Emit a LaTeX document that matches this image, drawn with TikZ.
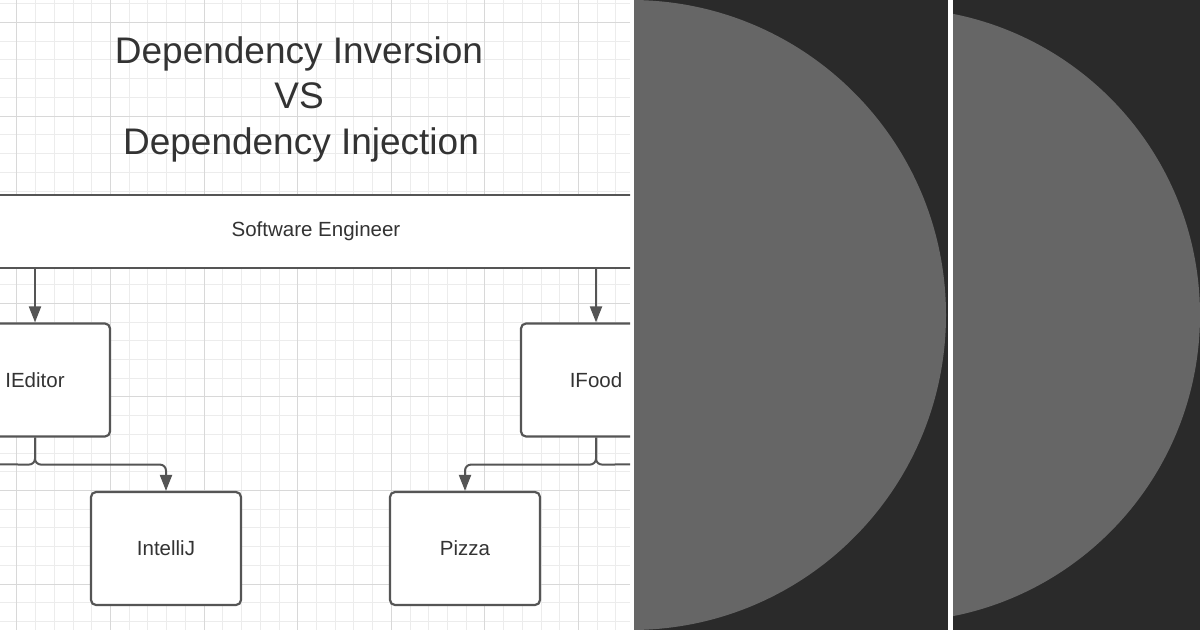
\documentclass[tikz,border=0pt]{standalone}
\usepackage{fontspec}
\setmainfont{Liberation Sans}
\usepackage{xcolor}
\usepackage{tikz}
\usetikzlibrary{arrows.meta}

\definecolor{inkgray}{HTML}{555555}
\definecolor{textgray}{HTML}{333333}
\definecolor{darkbg}{HTML}{2A2A2A}
\definecolor{discgray}{HTML}{666666}
\definecolor{minorline}{HTML}{ECECEC}
\definecolor{majorline}{HTML}{D8D8D8}

\tikzset{
  box/.style={draw=inkgray, line width=2.2pt, fill=white, rounded corners=5pt,
    minimum width=150pt, minimum height=113pt, text=textgray,
    font=\fontsize{20.5}{24}\selectfont},
  band/.style={draw=inkgray, line width=2.2pt, fill=white, minimum width=760pt,
    minimum height=73pt, text=textgray, font=\fontsize{20.5}{24}\selectfont},
  link/.style={draw=inkgray, line width=2pt, rounded corners=6pt},
  arrowlink/.style={link, -{Triangle[width=12pt,length=16pt]}},
}

\begin{document}
\begin{tikzpicture}[x=1pt, y=-1pt]
\useasboundingbox (0,0) rectangle (1200,630);
\fill[darkbg] (0,0) rectangle (1200,630);
\fill[white] (0,0) rectangle (634,630);
\fill[white] (948,0) rectangle (953,630);

% the two discs
\begin{scope}
\clip (634,0) rectangle (948,630);
\fill[discgray] (631,315) circle (315pt);
\end{scope}
\begin{scope}
\clip (953,0) rectangle (1200,630);
\fill[discgray] (893,315) circle (307pt);
\end{scope}

\begin{scope}
\clip (0,0) rectangle (630,630);
% grid paper
\foreach \i in {0,...,34} {
  \draw[minorline, line width=0.8pt] ({-1.9+18.72*\i},0) -- ++(0,630);
  \draw[minorline, line width=0.8pt] (0,{3.7+18.72*\i}) -- ++(630,0);
}
\foreach \i in {0,...,6} {
  \draw[majorline, line width=0.8pt] ({16.8+93.6*\i},0) -- ++(0,630);
  \draw[majorline, line width=0.8pt] (0,{22.4+93.6*\i}) -- ++(630,0);
}

\node[text=textgray, align=center, font=\fontsize{37}{45.5}\selectfont] (title) at (299,99)
  {Dependency Inversion\\VS\\\hspace{4pt}Dependency Injection};

\node[band] (engineer) at (316,231.5) {Software Engineer};

\node[box] (ieditor) at (35,380) {IEditor};
\node[box] (ifood) at (596,380) {IFood};
\node[box] (intellij) at (166,548.5) {IntelliJ};
\node[box] (pizza) at (465,548.5) {Pizza};

\coordinate (offleft) at (-60,464);
\coordinate (offright) at (700,464);

\draw[arrowlink] (ieditor.north |- engineer.south) -- (ieditor.north);
\draw[arrowlink] (ifood.north |- engineer.south) -- (ifood.north);
\draw[arrowlink] (ieditor.south) -- ++(0,27) -| (intellij.north);
\draw[link] (ieditor.south) -- ++(0,27) -- (offleft);
\draw[arrowlink] (ifood.south) -- ++(0,27) -| (pizza.north);
\draw[link] (ifood.south) -- ++(0,27) -- (offright);
\end{scope}
\end{tikzpicture}
\end{document}
